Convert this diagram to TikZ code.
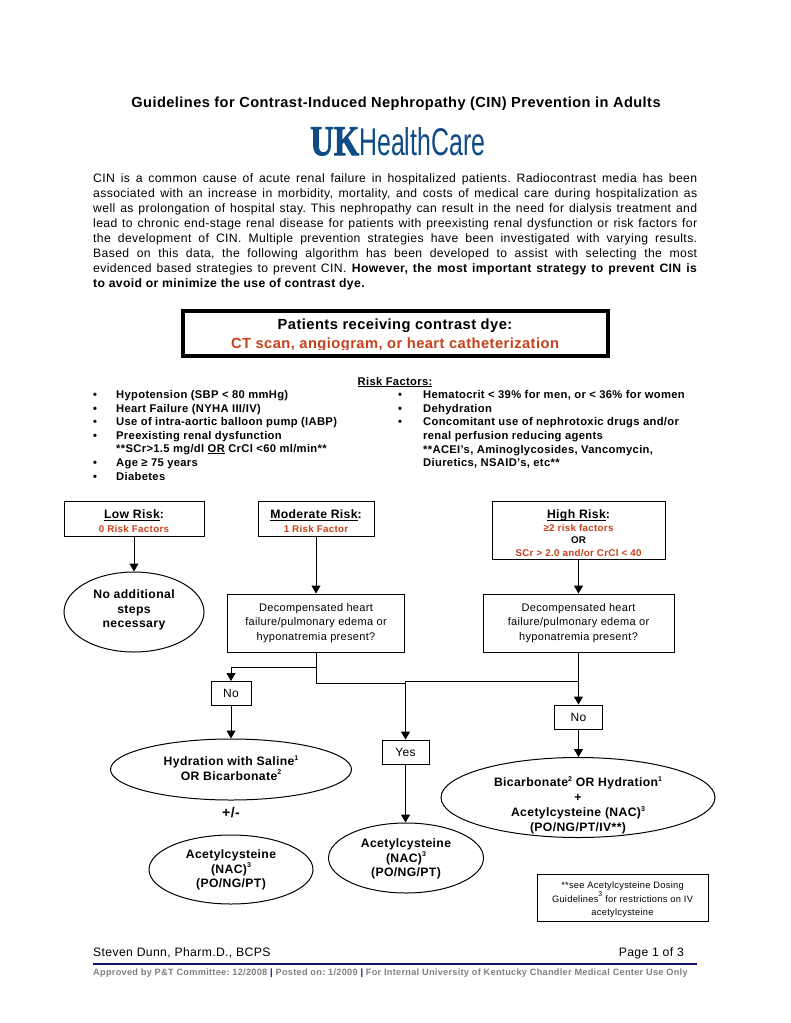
\documentclass[tikz,border=0pt]{standalone}
\usepackage{fontspec}
\usepackage{graphicx}
\usetikzlibrary{arrows.meta,shapes.geometric}
\setmainfont{Liberation Sans}[LetterSpace=3]
\newfontfamily\logoserif[BoldFeatures={FakeBold=2}]{Liberation Serif}
\newfontfamily\logosans{Liberation Sans}
\definecolor{rust}{HTML}{C8401A}
\definecolor{ukblue}{HTML}{0F4C86}
\definecolor{navyrule}{HTML}{14146E}
\definecolor{ftgray}{HTML}{808080}
\newcommand{\fs}[2]{\fontsize{#1}{#2}\selectfont}
\newcommand{\jl}[1]{\makebox[604pt][s]{#1}}
\newcommand{\tp}[1]{\rule{0pt}{#1pt}}
\newcommand{\sups}[1]{\raisebox{5.5pt}{\fs{7}{8}#1}}
\frenchspacing
\tikzset{
  x=1pt,y=-1pt,
  box/.style={draw,line width=1pt,inner sep=0pt,align=center},
  oval/.style={draw,ellipse,line width=1pt,inner sep=0pt},
  ovt/.style={inner sep=0pt,align=center,font=\bfseries\fs{12.2}{14.7}},
  txt/.style={inner sep=0pt,anchor=base west},
  rf/.style={txt,font=\bfseries\fs{11.2}{13}},
  arr/.style={line width=1pt,-{Triangle[length=8pt,width=9pt]}},
  lin/.style={line width=1pt},
  q/.style={font=\fs{11}{14.5}},
}
\begin{document}
\begin{tikzpicture}
\useasboundingbox (0,0) rectangle (791,1023);
\fill[white] (0,0) rectangle (791,1023);
\node[inner sep=0pt,anchor=base,font=\bfseries\fs{14.6}{16}] (title) at (396,107) {Guidelines for Contrast-Induced Nephropathy (CIN) Prevention in Adults};
\node[inner sep=0pt,anchor=north west,text=ukblue] (logoa) at (310,127) {\logoserif\bfseries\resizebox{49pt}{28pt}{UK}};
\node[inner sep=0pt,anchor=north west,text=ukblue] (logob) at (359,127) {\logosans\resizebox{126pt}{28pt}{HealthCare}};
\node[inner sep=0pt,anchor=north west,align=left,font=\fs{12.2}{15}] (intro) at (93,173.5) {%
\jl{CIN is a common cause of acute renal failure in hospitalized patients. Radiocontrast media has been}\\
\jl{associated with an increase in morbidity, mortality, and costs of medical care during hospitalization as}\\
\jl{well as prolongation of hospital stay. This nephropathy can result in the need for dialysis treatment and}\\
\jl{lead to chronic end-stage renal disease for patients with preexisting renal dysfunction or risk factors for}\\
\jl{the development of CIN. Multiple prevention strategies have been investigated with varying results.}\\
\jl{Based on this data, the following algorithm has been developed to assist with selecting the most}\\
\jl{evidenced based strategies to prevent CIN. \textbf{However, the most important strategy to prevent CIN is}}\\
\textbf{to avoid or minimize the use of contrast dye.}};

% top box
\begin{scope}
\clip (181,309) rectangle (609,349);
\node[inner sep=0pt,anchor=base,font=\bfseries\fs{14.7}{16}] (pt) at (395,329) {Patients receiving contrast dye:};
\node[inner sep=0pt,anchor=base,font=\bfseries\fs{14.7}{16},text=rust] (ct) at (395,348) {CT scan, angiogram, or heart catheterization};
\end{scope}
\node[draw,line width=4pt,inner sep=0pt,minimum width=425pt,minimum height=45pt] (top) at (395,333) {};

% risk factors
\node[inner sep=0pt,anchor=base,font=\bfseries\fs{11.2}{13}] (rfh) at (395,385) {\underline{Risk Factors:}};
\foreach \n/\y in {a/398,b/412,c/425,d/439,e/466,f/480}{
  \node[rf] (lb\n) at (93,\y) {•};}
\node[rf] (l1) at (116,398) {Hypotension (SBP < 80 mmHg)};
\node[rf] (l2) at (116,412) {Heart Failure (NYHA III/IV)};
\node[rf] (l3) at (116,425) {Use of intra-aortic balloon pump (IABP)};
\node[rf] (l4) at (116,439) {Preexisting renal dysfunction};
\node[rf] (l5) at (116,452) {**SCr>1.5 mg/dl \underline{OR} CrCl <60 ml/min**};
\node[rf] (l6) at (116,466) {Age ≥ 75 years};
\node[rf] (l7) at (116,480) {Diabetes};
\foreach \n/\y in {a/398,b/412,c/425}{
  \node[rf] (rb\n) at (398,\y) {•};}
\node[rf] (r1) at (423,398) {Hematocrit < 39\% for men, or < 36\% for women};
\node[rf] (r2) at (423,412) {Dehydration};
\node[rf] (r3) at (423,425) {Concomitant use of nephrotoxic drugs and/or};
\node[rf] (r4) at (423,439) {renal perfusion reducing agents};
\node[rf] (r5) at (423,453) {**ACEI's, Aminoglycosides, Vancomycin,};
\node[rf] (r6) at (423,466) {Diuretics, NSAID's, etc**};

% risk boxes
\node[box,minimum width=140pt,minimum height=35pt] (low) at (134,518.5) {\tp{14}{\bfseries\fs{12.2}{14}\underline{Low Risk}:}\\[2pt]{\bfseries\fs{9.8}{12}\color{rust}0 Risk Factors}};
\node[box,minimum width=116pt,minimum height=35pt] (mod) at (316,518.5) {\tp{14}{\bfseries\fs{12.2}{14}\underline{Moderate Risk}:}\\[2pt]{\bfseries\fs{9.8}{12}\color{rust}1 Risk Factor}};
\node[box,minimum width=173pt,minimum height=58pt] (high) at (578.5,530) {\tp{16}{\bfseries\fs{12.2}{14}\underline{\smash{High Risk}}:}\\[1pt]{\bfseries\fs{9.8}{11.5}\color{rust}≥2 risk factors}\\{\bfseries\fs{9.8}{11.5}OR}\\[1pt]{\bfseries\fs{9.8}{11.5}\color{rust}SCr > 2.0 and/or CrCl < 40}};

\node[oval,minimum width=140pt,minimum height=80pt] (none) at (134,612) {};
\node[ovt] (nonet) at (134,610) {No additional\\steps\\necessary};
\node[box,q,minimum width=177pt,minimum height=58pt] (d1) at (316,623) {Decompensated heart\\failure/pulmonary edema or\\hyponatremia present?};
\node[box,q,minimum width=191pt,minimum height=58pt] (d2) at (578.5,623) {Decompensated heart\\failure/pulmonary edema or\\hyponatremia present?};

\node[box,font=\fs{12}{14},minimum width=40pt,minimum height=24pt] (no1) at (231,693.5) {No};
\node[box,font=\fs{12}{14},minimum width=48pt,minimum height=24pt] (no2) at (578.5,717) {No};
\node[box,font=\fs{12}{14},minimum width=47pt,minimum height=24pt] (yes) at (405.5,752) {Yes};

\node[oval,minimum width=241pt,minimum height=61pt] (hyd) at (231,769.5) {};
\node[ovt] (hydt) at (231,768) {Hydration with Saline\sups{1}\\OR Bicarbonate\sups{2}};
\node[inner sep=0pt,font=\bfseries\fs{14}{16}] (pm) at (231,813) {+/-};
\node[oval,minimum width=164pt,minimum height=69pt] (nac1) at (231,869.5) {};
\node[ovt] (nac1t) at (231,870) {Acetylcysteine\\(NAC)\sups{3}\\(PO/NG/PT)};
\node[oval,minimum width=155pt,minimum height=70pt] (nac2) at (406,858) {};
\node[ovt] (nac2t) at (406,859) {Acetylcysteine\\(NAC)\sups{3}\\(PO/NG/PT)};
\node[oval,minimum width=274pt,minimum height=80pt] (bic) at (578,797.5) {};
\node[ovt,font=\bfseries\fs{12.2}{15}] (bict) at (578,805.5) {Bicarbonate\sups{2} OR Hydration\sups{1}\\+\\Acetylcysteine (NAC)\sups{3}\\(PO/NG/PT/IV**)};
\node[box,font=\fs{9.3}{13.5},minimum width=171pt,minimum height=47pt] (note) at (622.5,897.5) {\tp{11}**see Acetylcysteine Dosing\\Guidelines\sups{3} for restrictions on IV\\acetylcysteine};

% connectors
\draw[arr] (low.south) -- (none.north);
\draw[arr] (mod.south) -- (d1.north);
\draw[arr] (high.south) -- (d2.north);
\coordinate (j1) at (316,667);
\coordinate (j2) at (316,683);
\coordinate (j3) at (405.5,681);
\coordinate (j4) at (578.5,681);
\draw[lin] (d1.south) -- (j2) -- (j2 -| j3);
\draw[lin] (j3) -- (j4);
\draw[arr] (j1) -| (no1.north);
\draw[arr] (no1.south) -- (no1.south |- hyd.north);
\draw[arr] (d2.south) -- (no2.north);
\draw[arr] (j3) -- (yes.north);
\draw[arr] (yes.south) -- (yes.south |- nac2.north);
\draw[arr] (no2.south) -- (no2.south |- bic.north);

% footer
\node[inner sep=0pt,anchor=base west,font=\fs{12.2}{14}] (auth) at (93,956) {Steven Dunn, Pharm.D., BCPS};
\node[inner sep=0pt,anchor=base east,font=\fs{12.2}{14}] (page) at (684,956) {Page 1 of 3};
\coordinate (fa) at (93,963.5);
\coordinate (fb) at (697,963.5);
\draw[navyrule,line width=2pt] (fa) -- (fb);
\node[inner sep=0pt,anchor=base west,text=ftgray,font=\bfseries\fs{9.2}{11}] (foot) at (93,975) {Approved by P\&T Committee: 12/2008 {\color{navyrule}|} Posted on: 1/2009 {\color{navyrule}|} For Internal University of Kentucky Chandler Medical Center Use Only};
\end{tikzpicture}
\end{document}
